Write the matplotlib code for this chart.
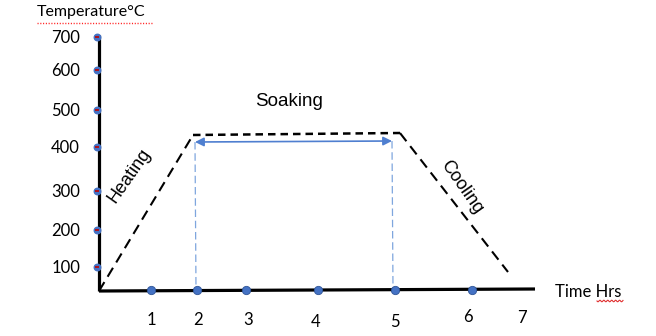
import matplotlib
matplotlib.use("Agg")
import matplotlib.pyplot as plt
import numpy as np

# schematic canvas: units are the diagram's own drawing units (0..656 wide, 0..336 tall, y down)
y_tick_labels = ["700", "600", "500", "400", "300", "200", "100"]
y_tick_pos = [37, 70, 110, 147, 191, 230, 267]

x_dot_pos = [151, 197, 246, 318, 395, 472]
x_tick_labels = ["1", "2", "3", "4", "5", "6", "7"]
x_label_pos = [151, 198, 248, 316, 395, 468, 522]
x_label_y = [320, 320, 320, 322, 322, 317, 318]

origin = (99, 291)
axis_top = 35
axis_right = (535, 289)

# heating / soaking / cooling profile
heat_x, heat_y = [99, 193], [291, 135]
soak_x, soak_y = [193, 400], [135, 133]
cool_x, cool_y = [400, 508], [133, 272]

# soaking markers
soak_start, soak_end = 195, 392
arrow_y = (142, 141)

FONT_NUM = ["Lato", "DejaVu Sans"]
FONT_TXT = ["Liberation Sans", "DejaVu Sans"]

fig = plt.figure(figsize=(6.56, 3.36), dpi=100)
ax = fig.add_axes([0, 0, 1, 1])
ax.set_xlim(0, 656)
ax.set_ylim(336, 0)
ax.axis("off")

# axes lines
ax.plot([origin[0], origin[0]], [origin[1], axis_top], color="black", lw=2.3, solid_capstyle="butt", zorder=3)
ax.plot([origin[0], axis_right[0]], [origin[1], axis_right[1]], color="black", lw=2.3, solid_capstyle="butt", zorder=3)

# profile dashed lines
ax.plot(heat_x, heat_y, color="black", lw=1.5, dashes=(5, 3), zorder=2)
ax.plot(soak_x, soak_y, color="black", lw=1.8, dashes=(3, 2), zorder=2)
ax.plot(cool_x, cool_y, color="black", lw=1.5, dashes=(5, 3), zorder=2)

# blue guides
for xv, yv in zip([soak_start, soak_end], arrow_y):
    ax.plot([xv, xv + 1], [yv, 290], color="#7FA6DE", lw=0.9, dashes=(6, 3), zorder=2)
ax.annotate("", xy=(soak_start, arrow_y[0]), xytext=(soak_end, arrow_y[1]),
            arrowprops=dict(arrowstyle="<|-|>", color="#4F7FD0", lw=1.2,
                            mutation_scale=13, shrinkA=0, shrinkB=0), zorder=4)

# dots on axes
ax.scatter(x_dot_pos, [290] * len(x_dot_pos), s=36, color="#4472C4", edgecolor="#2F5597", lw=0.6, zorder=5)
ax.scatter([97] * len(y_tick_pos), y_tick_pos, s=22, marker="o", color="#4472C4", zorder=5)
ax.scatter([97] * len(y_tick_pos), y_tick_pos, s=6, marker="_", color="#C00000", lw=1.2, zorder=6)

# tick labels
for lab, yv in zip(y_tick_labels, y_tick_pos):
    ax.text(80, yv + 1, lab, ha="right", va="center", fontsize=12, family=FONT_NUM)
for lab, xv, yv in zip(x_tick_labels, x_label_pos, x_label_y):
    ax.text(xv, yv, lab, ha="center", va="center", fontsize=12, family=FONT_NUM)

# titles
ax.text(37, 12, "Temperature°C", ha="left", va="center", fontsize=11.5, family=FONT_NUM)
ax.plot([37, 153], [23, 23], color="#FF2020", lw=1.0, dashes=(0.8, 1.2))
ax.text(555, 292, "Time Hrs", ha="left", va="center", fontsize=12, family=FONT_NUM)
wx = np.linspace(597, 623, 40)
ax.plot(wx, 301 + 0.8 * np.sin((wx - 597) * 1.6), color="#E03030", lw=0.8)

# phase labels
ax.text(289, 101, "Soaking", ha="center", va="center", fontsize=13.5, family=FONT_TXT)
ax.text(129, 176, "Heating", ha="center", va="center", fontsize=13, rotation=55,
        rotation_mode="anchor", family=FONT_TXT)
ax.text(462, 187, "Cooling", ha="center", va="center", fontsize=13, rotation=-55,
        rotation_mode="anchor", family=FONT_TXT)

fig.savefig("out.png", dpi=100, facecolor="white")
